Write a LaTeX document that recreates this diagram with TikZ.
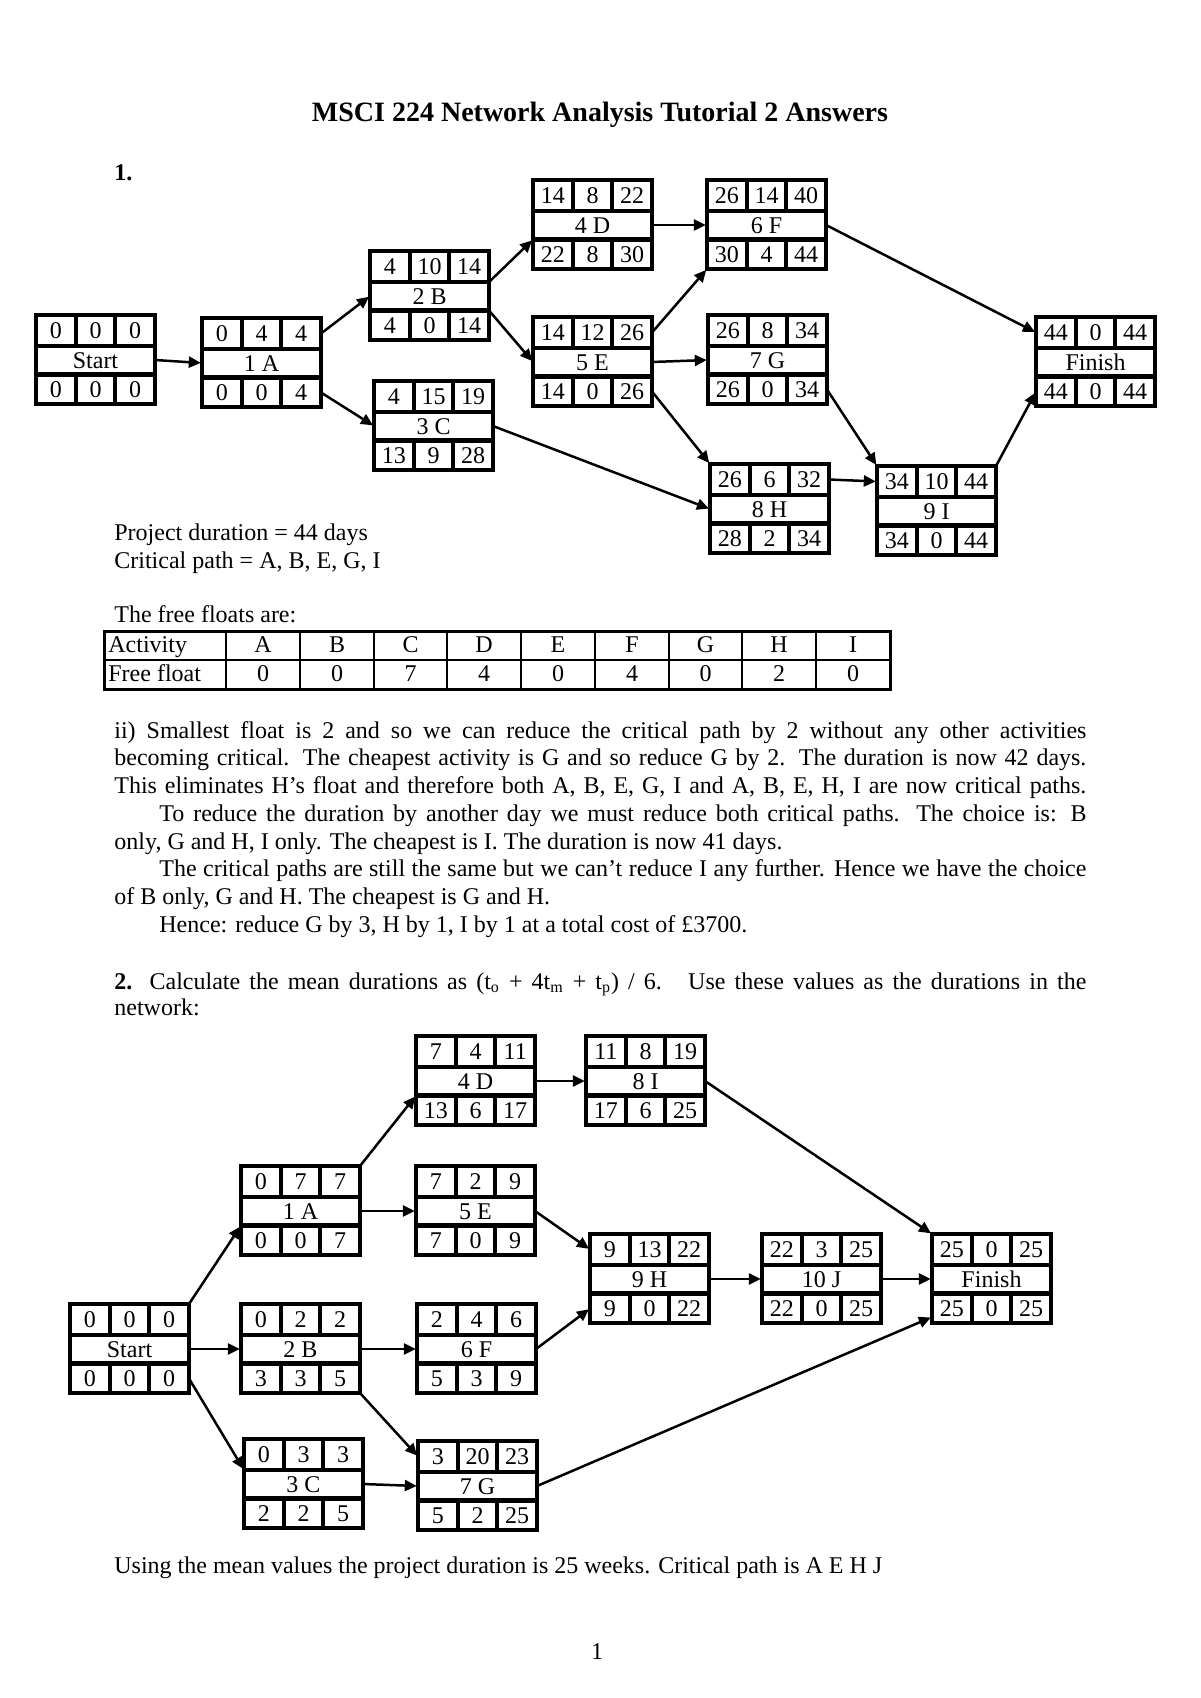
\documentclass[tikz,border=0pt]{standalone}
\usepackage{fontspec}
\setmainfont{Liberation Serif}
\usetikzlibrary{arrows.meta,calc}
\tikzset{
  actbox/.style={draw, line width=2.4pt, minimum width=59.5pt, minimum height=44.5pt, inner sep=0pt, outer sep=0pt, anchor=north west, fill=white},
  cellline/.style={line width=2.1pt},
  celltxt/.style={font=\fontsize{12}{14}\selectfont, inner sep=0pt, anchor=center},
  arr/.style={line width=1.25pt, -{Triangle[length=6pt,width=5.5pt]}, shorten >=0.6pt},
  txt/.style={anchor=base west, inner sep=0pt, font=\fontsize{12}{14}\selectfont},
  tabline/.style={line width=1pt},
}
% #1 name, #2 position of top-left corner, #3-#5 top row, #6 label, #7-#9 bottom row
\newcommand\abox[9]{%
  \node[actbox] (#1) at (#2) {};
  \draw[cellline] ([shift={(0,31)}]#1.north west) -- ([shift={(0,31)}]#1.north east);
  \draw[cellline] ([shift={(0,59.5)}]#1.north west) -- ([shift={(0,59.5)}]#1.north east);
  \draw[cellline] ([shift={(39.7,0)}]#1.north west) -- ([shift={(39.7,31)}]#1.north west);
  \draw[cellline] ([shift={(79.3,0)}]#1.north west) -- ([shift={(79.3,31)}]#1.north west);
  \draw[cellline] ([shift={(39.7,59.5)}]#1.north west) -- ([shift={(39.7,89)}]#1.north west);
  \draw[cellline] ([shift={(79.3,59.5)}]#1.north west) -- ([shift={(79.3,89)}]#1.north west);
  \node[celltxt] (#1-a) at ([shift={(19.8,16)}]#1.north west) {#3};
  \node[celltxt] (#1-b) at ([shift={(59.5,16)}]#1.north west) {#4};
  \node[celltxt] (#1-c) at ([shift={(99.2,16)}]#1.north west) {#5};
  \node[celltxt] (#1-n) at ([shift={(59.5,45.5)}]#1.north west) {#6};
  \node[celltxt] (#1-d) at ([shift={(19.8,74.5)}]#1.north west) {#7};
  \node[celltxt] (#1-e) at ([shift={(59.5,74.5)}]#1.north west) {#8};
  \node[celltxt] (#1-f) at ([shift={(99.2,74.5)}]#1.north west) {#9};
  \coordinate (#1-l1) at ([shift={(0,15.5)}]#1.north west);
  \coordinate (#1-lb1) at ([shift={(0,31)}]#1.north west);
  \coordinate (#1-lm) at ([shift={(0,45)}]#1.north west);
  \coordinate (#1-lb2) at ([shift={(0,59.5)}]#1.north west);
  \coordinate (#1-l3) at ([shift={(0,74.5)}]#1.north west);
  \coordinate (#1-l4) at ([shift={(0,83)}]#1.north west);
  \coordinate (#1-r1) at ([shift={(0,15.5)}]#1.north east);
  \coordinate (#1-rb1) at ([shift={(0,31)}]#1.north east);
  \coordinate (#1-rm) at ([shift={(0,45)}]#1.north east);
  \coordinate (#1-rb2) at ([shift={(0,59.5)}]#1.north east);
  \coordinate (#1-r3) at ([shift={(0,74.5)}]#1.north east);
}
\begin{document}
\begin{tikzpicture}[x=0.5pt,y=-0.5pt]
\useasboundingbox (0,0) rectangle (1200,1698);
\fill[white] (0,0) rectangle (1200,1698);

% ---------- texts ----------
\node[txt, anchor=base, font=\fontsize{14}{16}\selectfont] (title) at (600,121) {\bfseries MSCI 224 Network Analysis Tutorial 2 Answers};
\node[txt] (q1) at (114,180) {\bfseries 1.};
\node[txt] (pd) at (114,540) {Project duration = 44 days};
\node[txt] (cp) at (114,568) {Critical path = A, B, E, G, I};
\node[txt] (ff) at (114,622) {The free floats are:};

\node[txt] (p1) at (114,738) {\makebox[486pt][s]{ii) Smallest float is 2 and so we can reduce the critical path by 2 without any other activities}};
\node[txt] (p2) at (114,765.5) {\makebox[486pt][s]{becoming critical. The cheapest activity is G and so reduce G by 2. The duration is now 42 days.}};
\node[txt] (p3) at (114,793) {\makebox[486pt][s]{This eliminates H’s float and therefore both A, B, E, G, I and A, B, E, H, I are now critical paths.}};
\node[txt] (p4) at (159,821) {\makebox[463.5pt][s]{To reduce the duration by another day we must reduce both critical paths. The choice is: B}};
\node[txt] (p5) at (114,849) {only, G and H, I only. The cheapest is I. The duration is now 41 days.};
\node[txt] (p6) at (159,876.5) {\makebox[463.5pt][s]{The critical paths are still the same but we can’t reduce I any further. Hence we have the choice}};
\node[txt] (p7) at (114,904) {of B only, G and H. The cheapest is G and H.};
\node[txt] (p8) at (159,932) {Hence: reduce G by 3, H by 1, I by 1 at a total cost of £3700.};

\node[txt] (q2) at (114,989) {\makebox[486pt][s]{\textbf{2.} Calculate the mean durations as (t\textsubscript{o} + 4t\textsubscript{m} + t\textsubscript{p}) / 6. \ Use these values as the durations in the}};
\node[txt] (q2b) at (114,1015) {network:};
\node[txt] (fin) at (114,1573) {Using the mean values the project duration is 25 weeks. Critical path is A E H J};
\node[txt, anchor=base] (pg) at (597,1659) {1};

% ---------- table ----------
\draw[line width=1.5pt] (104,631) rectangle (890,689);
\draw[tabline] (104,660) -- (890,660);
\foreach \xx in {226,300,374,447,521,595,669,742,816} {\draw[tabline] (\xx,631) -- (\xx,689);}
\node[txt] (ta) at (108,652) {Activity};
\node[txt] (tf) at (108,681) {Free float};
\foreach \xx/\aa/\vv [count=\i] in {263/A/0,337/B/0,410.5/C/7,484/D/4,558/E/0,632/F/4,705.5/G/0,779/H/2,853/I/0} {
  \node[txt, anchor=base] (th\i) at (\xx,652) {\aa};
  \node[txt, anchor=base] (tv\i) at (\xx,681) {\vv};
}

% ---------- network 1 ----------
\abox{aS}{36,315}{0}{0}{0}{Start}{0}{0}{0}
\abox{aA}{202,318}{0}{4}{4}{1 A}{0}{0}{4}
\abox{aB}{370,251}{4}{10}{14}{2 B}{4}{0}{14}
\abox{aC}{374,381}{4}{15}{19}{3 C}{13}{9}{28}
\abox{aD}{533,180}{14}{8}{22}{4 D}{22}{8}{30}
\abox{aE}{533,317}{14}{12}{26}{5 E}{14}{0}{26}
\abox{aF}{707,180}{26}{14}{40}{6 F}{30}{4}{44}
\abox{aG}{708,315}{26}{8}{34}{7 G}{26}{0}{34}
\abox{aH}{710,464}{26}{6}{32}{8 H}{28}{2}{34}
\abox{aI}{877,466}{34}{10}{44}{9 I}{34}{0}{44}
\abox{aFin}{1036,317}{44}{0}{44}{Finish}{44}{0}{44}

\draw[arr] (aS-rm) -- (aA-lm);
\draw[arr] (aA-r1) -- (aB-lm);
\draw[arr] (aA-r3) -- (aC-lm);
\draw[arr] (aB-rb1) -- (aD-lb2);
\draw[arr] (aB-rb2) -- (aE-lm);
\draw[arr] (aD-rm) -- (aF-lm);
\draw[arr] (aE-r1) -- (aF.south west);
\draw[arr] (aE-rm) -- (aG-lm);
\draw[arr] (aE-r3) -- (aH.north west);
\draw[arr] (aC-rm) -- (aH-lm);
\draw[arr] (aG-r3) -- (aI.north west);
\draw[arr] (aH-r1) -- (aI-l1);
\draw[arr] (aF-rm) -- (aFin-l1);
\draw[arr] (aI.north east) -- (aFin-l3);

% ---------- network 2 ----------
\abox{bS}{70,1304}{0}{0}{0}{Start}{0}{0}{0}
\abox{bA}{241,1166}{0}{7}{7}{1 A}{0}{0}{7}
\abox{bB}{241,1304}{0}{2}{2}{2 B}{3}{3}{5}
\abox{bC}{244,1439}{0}{3}{3}{3 C}{2}{2}{5}
\abox{bD}{416,1036}{7}{4}{11}{4 D}{13}{6}{17}
\abox{bE}{416,1166}{7}{2}{9}{5 E}{7}{0}{9}
\abox{bF}{417,1304}{2}{4}{6}{6 F}{5}{3}{9}
\abox{bG}{418,1441}{3}{20}{23}{7 G}{5}{2}{25}
\abox{bI}{586,1036}{11}{8}{19}{8 I}{17}{6}{25}
\abox{bH}{590,1234}{9}{13}{22}{9 H}{9}{0}{22}
\abox{bJ}{762,1234}{22}{3}{25}{10 J}{22}{0}{25}
\abox{bFin}{932,1234}{25}{0}{25}{Finish}{25}{0}{25}

\draw[arr] (bS.north east) -- (bA-lb2);
\draw[arr] (bS-rm) -- (bB-lm);
\draw[arr] (bS-r3) -- (bC-lb1);
\draw[arr] (bA.north east) -- (bD-lb2);
\draw[arr] (bA-rm) -- (bE-lm);
\draw[arr] (bB-rm) -- (bF-lm);
\draw[arr] (bB.south east) -- (bG-l1);
\draw[arr] (bC-rm) -- (bG-lm);
\draw[arr] (bD-rm) -- (bI-lm);
\draw[arr] (bE-rm) -- (bH-l1);
\draw[arr] (bF-rm) -- (bH-l3);
\draw[arr] (bH-rm) -- (bJ-lm);
\draw[arr] (bJ-rm) -- (bFin-lm);
\draw[arr] (bI-rm) -- (bFin.north west);
\draw[arr] (bG-rm) -- (bFin-l4);
\end{tikzpicture}
\end{document}
